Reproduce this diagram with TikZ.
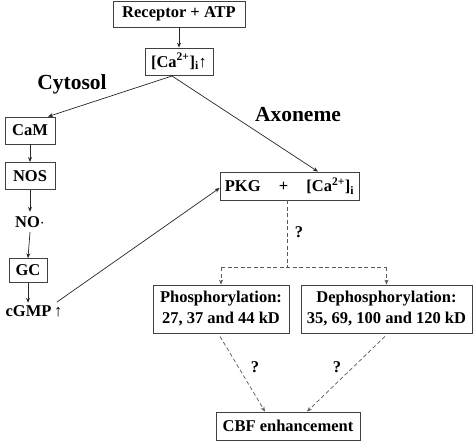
\documentclass[tikz,border=0pt]{standalone}
\usepackage{fontspec}
\setmainfont{Liberation Serif}
\usetikzlibrary{arrows.meta}
\begin{document}
\begin{tikzpicture}[x=1pt,y=-1pt,
  lbl/.style={font=\bfseries\fontsize{16.5}{21}\selectfont, inner sep=0pt},
  big/.style={font=\bfseries\fontsize{21.5}{24}\selectfont, inner sep=0pt},
  box/.style={lbl, draw=black!75, line width=0.8pt, fill=white, align=center},
  arr/.style={draw=black!85, line width=0.7pt, -{Stealth[length=5pt,width=4pt]}},
  darr/.style={draw=black!65, line width=0.7pt, dash pattern=on 4pt off 2.5pt, -{Stealth[length=5pt,width=4pt]}},
  dline/.style={draw=black!65, line width=0.7pt, dash pattern=on 4pt off 2.5pt}]
\useasboundingbox (0,0) rectangle (474,441);
\node[box, minimum width=132pt, minimum height=26pt] (rec) at (179,14) {Receptor + ATP};
\node[box, minimum width=68pt, minimum height=27pt] (ca) at (179,61.5) {[Ca\textsuperscript{2+}]\textsubscript{i}↑};
\node[big] (cyt) at (72,84) {Cytosol};
\node[big] (axo) at (298,115) {Axoneme};
\node[box, minimum width=50pt, minimum height=27pt] (cam) at (30,130.5) {CaM};
\node[box, minimum width=50pt, minimum height=27pt] (nos) at (30,176) {NOS};
\node[lbl, minimum height=20pt] (no) at (30,222) {NO$\cdot$};
\node[box, minimum width=38pt, minimum height=24pt] (gc) at (28,270.5) {GC};
\node[lbl, minimum height=16pt] (cgmp) at (34,311) {cGMP\,↑};
\node[box, minimum width=139pt, minimum height=28pt] (pkg) at (289.5,186) {PKG\hspace{1.1em}+\hspace{1.1em}[Ca\textsuperscript{2+}]\textsubscript{i}};
\node[box, minimum width=136pt, minimum height=48pt] (ph) at (221,309) {Phosphorylation:\\27, 37 and 44 kD};
\node[box, minimum width=171pt, minimum height=48pt] (de) at (386.5,309) {Dephosphorylation:\\35, 69, 100 and 120 kD};
\node[box, minimum width=144pt, minimum height=28pt] (cbf) at (288,426) {CBF enhancement};
\node[lbl] (q1) at (299,232) {?};
\node[lbl] (q2) at (255,367) {?};
\node[lbl] (q3) at (337,367) {?};
\coordinate (split) at (172,76);
\coordinate (cgo) at (57,302);
\coordinate (br) at (287,267);
\draw[arr] (rec.south) -- (ca.north);
\draw[arr] (split) -- ([xshift=18pt]cam.north);
\draw[arr] (split) -- ([xshift=28.5pt]pkg.north);
\draw[arr] (cam.south) -- (nos.north);
\draw[arr] (nos.south) -- (no.north);
\draw[arr] (no.south) -- (gc.north);
\draw[arr] (gc.south) -- (cgmp.north -| gc.south);
\draw[arr] (cgo) -- ([yshift=-2pt]pkg.west);
\draw[dline] ([xshift=-2.5pt]pkg.south) -- (br);
\draw[dline] (ph.north |- br) -- (de.north |- br);
\draw[darr] (ph.north |- br) -- (ph.north);
\draw[darr] (de.north |- br) -- (de.north);
\draw[darr] ([xshift=-1pt,yshift=-3pt]ph.south) -- ([xshift=-23pt]cbf.north);
\draw[darr] ([xshift=-1.5pt,yshift=-3pt]de.south) -- ([xshift=19pt]cbf.north);
\end{tikzpicture}
\end{document}
